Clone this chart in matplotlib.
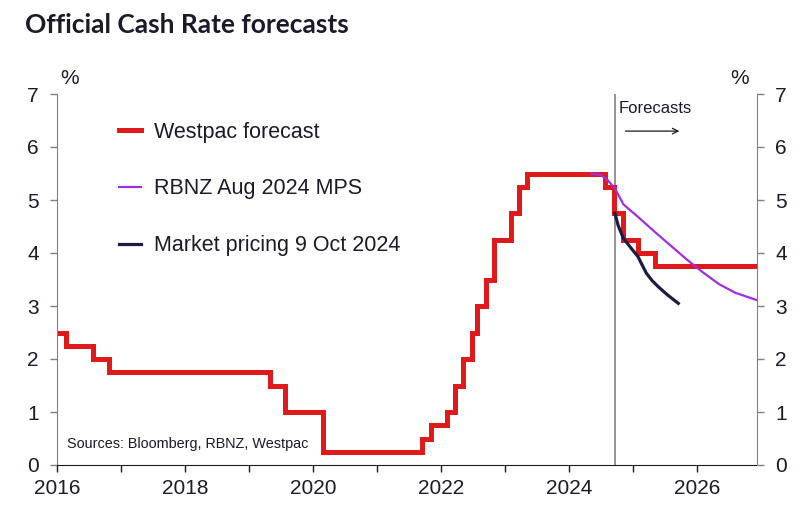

# Official Cash Rate forecasts chart
import matplotlib
matplotlib.use("Agg")
import matplotlib.pyplot as plt

# Westpac OCR (actual + forecast), step dates in decimal years
westpac_x = [2016.0, 2016.14, 2016.57, 2016.81, 2019.33, 2019.56, 2020.16,
             2021.70, 2021.84, 2022.09, 2022.22, 2022.34, 2022.48, 2022.57,
             2022.70, 2022.83, 2023.09, 2023.22, 2023.34, 2024.56, 2024.71,
             2024.85, 2025.08, 2025.34, 2026.94]
westpac_y = [2.50, 2.25, 2.00, 1.75, 1.50, 1.00, 0.25,
             0.50, 0.75, 1.00, 1.50, 2.00, 2.50, 3.00,
             3.50, 4.25, 4.75, 5.25, 5.50, 5.25, 4.75,
             4.25, 4.00, 3.75, 3.75]

# RBNZ Aug 2024 MPS track
rbnz_x = [2024.35, 2024.50, 2024.60, 2024.72, 2024.85, 2025.10, 2025.35,
          2025.60, 2025.85, 2026.10, 2026.35, 2026.60, 2026.94]
rbnz_y = [5.50, 5.47, 5.38, 5.22, 4.92, 4.66, 4.39,
          4.13, 3.87, 3.63, 3.41, 3.25, 3.11]

# Market pricing 9 Oct 2024
market_x = [2024.72, 2024.77, 2024.85, 2025.00, 2025.08, 2025.21, 2025.30, 2025.40, 2025.55, 2025.71]
market_y = [4.75, 4.52, 4.28, 4.05, 3.93, 3.62, 3.48, 3.36, 3.20, 3.05]

forecast_start = 2024.72
year_ticks = list(range(2016, 2027))
year_labels = [str(y) if y % 2 == 0 else "" for y in year_ticks]

plt.rcParams["font.family"] = ["Liberation Sans", "DejaVu Sans"]

fig = plt.figure(figsize = (8.03, 5.17), dpi = 100)
ax = fig.add_axes([57 / 803, 1 - 465 / 517, 700 / 803, 371 / 517])

ax.plot(westpac_x, westpac_y, drawstyle = "steps-post", color = "#e0191a", lw = 3.6,
        label = "Westpac forecast", solid_joinstyle = "miter")
ax.plot(rbnz_x, rbnz_y, color = "#a12ee0", lw = 1.6, label = "RBNZ Aug 2024 MPS")
ax.plot(market_x, market_y, color = "#1c1c45", lw = 2.3, label = "Market pricing 9 Oct 2024")

# Start of forecast period
ax.axvline(forecast_start, color = "#808080", lw = 1.2, zorder = 0)

ax.set_xlim(2016, 2026.94)
ax.set_ylim(0, 7)
ax.set_xticks(year_ticks)
ax.set_xticklabels(year_labels)
ax.set_yticks(range(0, 8))

# Right hand axis mirrors the left
axr = ax.twinx()
axr.set_ylim(0, 7)
axr.set_yticks(range(0, 8))

for a in (ax, axr):
    a.spines["top"].set_visible(False)
    a.spines["left"].set_color("#808080")
    a.spines["right"].set_color("#808080")
    a.spines["bottom"].set_color("#1a1a1a")
    a.tick_params(axis = "y", colors = "#808080", labelcolor = "#1a1a2a", labelsize = 15,
                  length = 5, width = 1, pad = 8)
axr.spines["bottom"].set_visible(False)
axr.spines["left"].set_visible(False)
ax.spines["right"].set_visible(False)
ax.tick_params(axis = "x", colors = "#1a1a1a", labelcolor = "#1a1a2a", labelsize = 15,
               length = 5, width = 1, pad = 5)

ax.legend(loc = "upper left", bbox_to_anchor = (0.061, 0.978), frameon = False, fontsize = 15.5,
          handlelength = 1.0, handletextpad = 0.6, labelspacing = 1.67, labelcolor = "#1a1a2a")

ax.text(2016.16, 0.40, "Sources: Bloomberg, RBNZ, Westpac", fontsize = 10.4,
        color = "#1a1a2a", va = "center")
ax.text(forecast_start + 0.06, 6.72, "Forecasts", fontsize = 12, color = "#1a1a2a", va = "center")
ax.annotate("", xy = (forecast_start + 1.05, 6.3), xytext = (forecast_start + 0.12, 6.3),
            arrowprops = dict(arrowstyle = "->", color = "#1a1a1a", lw = 0.9))

fig.text(70 / 803, 1 - 78 / 517, "%", fontsize = 15, color = "#1a1a2a", ha = "center", va = "center")
fig.text(740 / 803, 1 - 78 / 517, "%", fontsize = 15, color = "#1a1a2a", ha = "center", va = "center")
fig.text(25 / 803, 1 - 25 / 517, "Official Cash Rate forecasts", fontsize = 19,
         fontweight = "bold", family = ["Lato", "DejaVu Sans"], color = "#1a1a2a", va = "center")

fig.savefig("out.png", dpi = 100)
